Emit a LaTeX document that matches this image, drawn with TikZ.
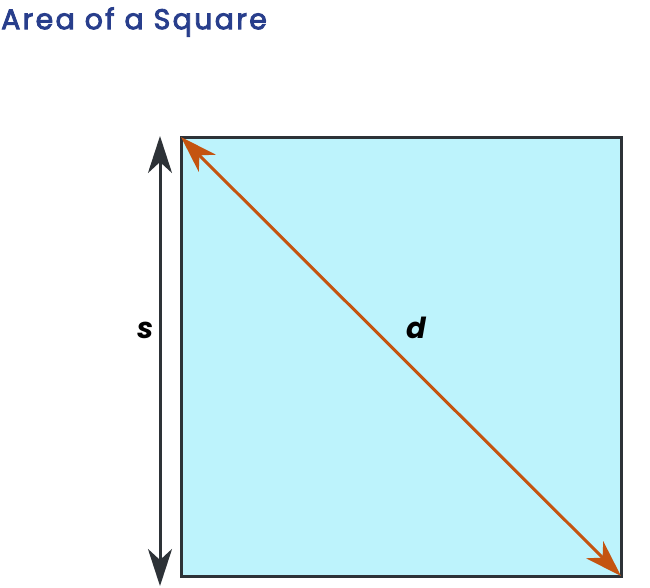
\documentclass[tikz,border=0pt]{standalone}
\usepackage{fontspec}
\setmainfont{Poppins}
\usetikzlibrary{arrows.meta}
\definecolor{titleblue}{RGB}{40,62,140}
\definecolor{sqfill}{RGB}{189,243,252}
\definecolor{sqedge}{RGB}{45,50,55}
\definecolor{diagc}{RGB}{196,84,16}
\tikzset{
  sqbox/.style={draw=sqedge, fill=sqfill, line width=3pt},
  dimarrow/.style={draw=sqedge, line width=3pt, {Stealth[length=37pt,width=24pt,inset=11pt]}-{Stealth[length=37pt,width=24pt,inset=11pt]}},
  diagarrow/.style={draw=diagc, line width=3pt, {Stealth[length=37pt,width=24pt,inset=11pt]}-{Stealth[length=37pt,width=24pt,inset=11pt]}},
  lbl/.style={font=\fontsize{29}{29}\selectfont\bfseries\itshape, text=black, inner sep=0pt}
}
\begin{document}
\begin{tikzpicture}[x=1pt,y=-1pt]
\useasboundingbox (0,0) rectangle (650,587);
\node[anchor=west, inner sep=0pt, text=titleblue, font=\fontsize{28.5}{28.5}\selectfont\addfontfeature{LetterSpace=8,FakeBold=3}] (title) at (1,22) {Area of a Square};
\coordinate (tl) at (181,137);
\coordinate (br) at (621,576);
\draw[sqbox] (tl) rectangle (br);
\coordinate (st) at (160,136);
\coordinate (sb) at (160,586);
\draw[dimarrow] (st) -- (sb);
\draw[diagarrow] (tl) -- (br);
\node[lbl] (s) at (146,330) {s};
\node[lbl] (d) at (416,328) {d};
\end{tikzpicture}
\end{document}
